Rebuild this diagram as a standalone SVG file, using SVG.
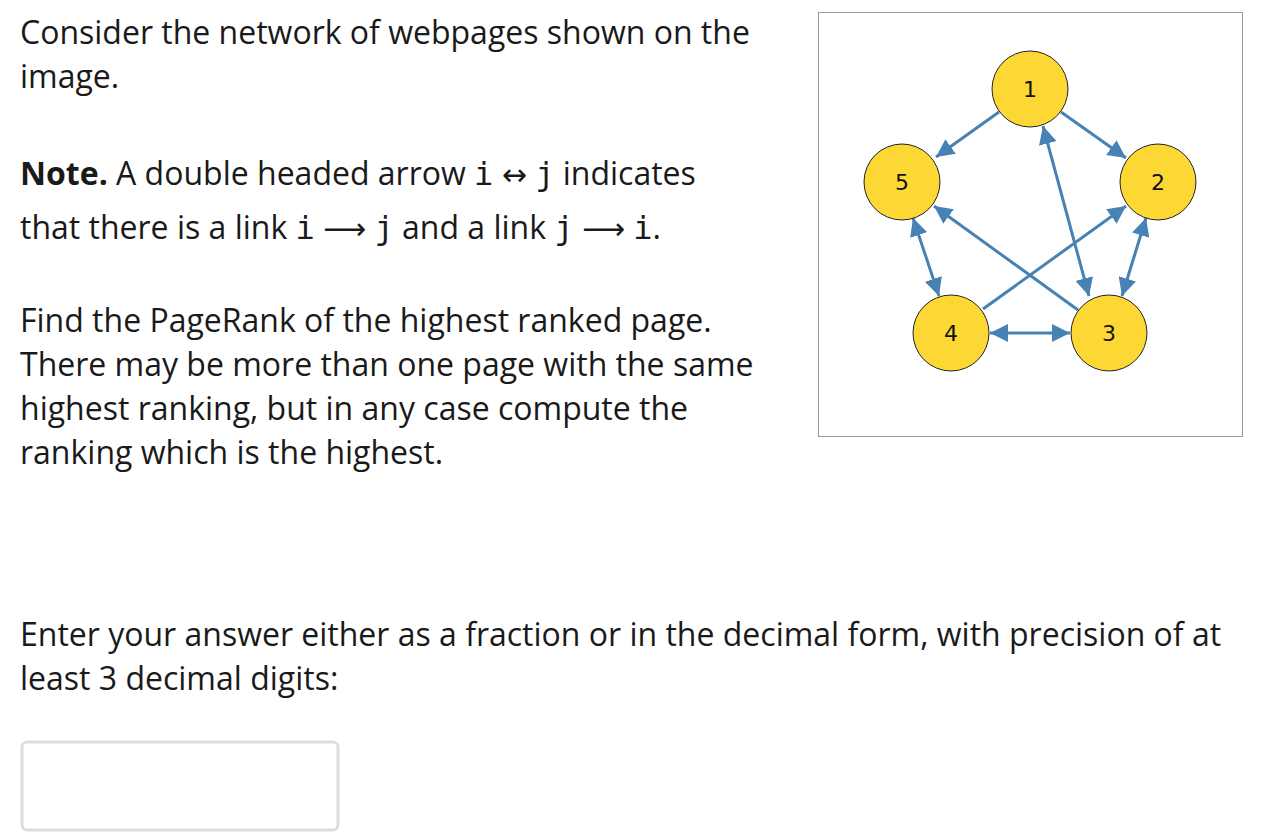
<svg xmlns="http://www.w3.org/2000/svg" width="1274" height="840" viewBox="0 0 1274 840">
<style>
.t{font-family:"Open Sans","Noto Sans",sans-serif;font-size:32px;fill:#1a1a1a}
.m{font-family:"DejaVu Sans Mono",monospace;font-size:32px}
.ar{font-family:"DejaVu Sans",sans-serif;font-size:30px}
.n circle{fill:#fdd835;stroke:#222;stroke-width:1}
.n text{font-family:"DejaVu Sans",sans-serif;font-size:22px;text-anchor:middle;fill:#111}
.e line{stroke:#4682b4;stroke-width:3}
</style>
<defs>
<marker id="a" viewBox="0 0 10 10" refX="10" refY="5" markerWidth="6" markerHeight="6" orient="auto-start-reverse" markerUnits="strokeWidth"><path d="M0,0L10,5L0,10z" fill="#4682b4"/></marker>
</defs>
<rect width="1274" height="840" fill="#fff"/>
<text class="t" x="20" y="44">Consider the network of webpages shown on the</text>
<text class="t" x="20" y="88">image.</text>
<text class="t" x="20" y="185"><tspan font-weight="bold">Note.</tspan> A double headed arrow <tspan class="m">i</tspan> <tspan class="ar">↔</tspan> <tspan class="m">j</tspan> indicates</text>
<text class="t" x="20" y="239">that there is a link <tspan class="m">i</tspan> <tspan class="ar">⟶</tspan> <tspan class="m">j</tspan> and a link <tspan class="m">j</tspan> <tspan class="ar">⟶</tspan> <tspan class="m">i</tspan>.</text>
<text class="t" x="20" y="332">Find the PageRank of the highest ranked page.</text>
<text class="t" x="20" y="376">There may be more than one page with the same</text>
<text class="t" x="20" y="420">highest ranking, but in any case compute the</text>
<text class="t" x="20" y="464">ranking which is the highest.</text>
<text class="t" x="20" y="646">Enter your answer either as a fraction or in the decimal form, with precision of at</text>
<text class="t" x="20" y="690">least 3 decimal digits:</text>
<rect x="22" y="742" width="316" height="88" rx="5" fill="#fff" stroke="#ddd" stroke-width="3"/>
<rect x="818.5" y="12.5" width="424" height="424" fill="#fff" stroke="#999"/>
<g class="e" id="edges">
<line x1="999" y1="112" x2="936" y2="157" marker-end="url(#a)"/>
<line x1="1061" y1="112" x2="1126" y2="158" marker-end="url(#a)"/>
<line x1="1089" y1="296" x2="1043" y2="126" marker-end="url(#a)" marker-start="url(#a)"/>
<line x1="1078" y1="310" x2="934" y2="206" marker-end="url(#a)"/>
<line x1="983" y1="309" x2="1126" y2="206" marker-end="url(#a)"/>
<line x1="913" y1="218" x2="939" y2="296" marker-end="url(#a)" marker-start="url(#a)"/>
<line x1="1146" y1="218" x2="1122" y2="296" marker-end="url(#a)" marker-start="url(#a)"/>
<line x1="990" y1="333" x2="1070" y2="333" marker-end="url(#a)" marker-start="url(#a)"/>
</g>
<g class="n" id="n1"><circle cx="1030" cy="89" r="38"/><text x="1030" y="97">1</text></g>
<g class="n" id="n2"><circle cx="1158" cy="182" r="38"/><text x="1158" y="190">2</text></g>
<g class="n" id="n3"><circle cx="1109" cy="333" r="38"/><text x="1109" y="341">3</text></g>
<g class="n" id="n4"><circle cx="951" cy="333" r="38"/><text x="951" y="341">4</text></g>
<g class="n" id="n5"><circle cx="902" cy="182" r="38"/><text x="902" y="190">5</text></g>
</svg>
